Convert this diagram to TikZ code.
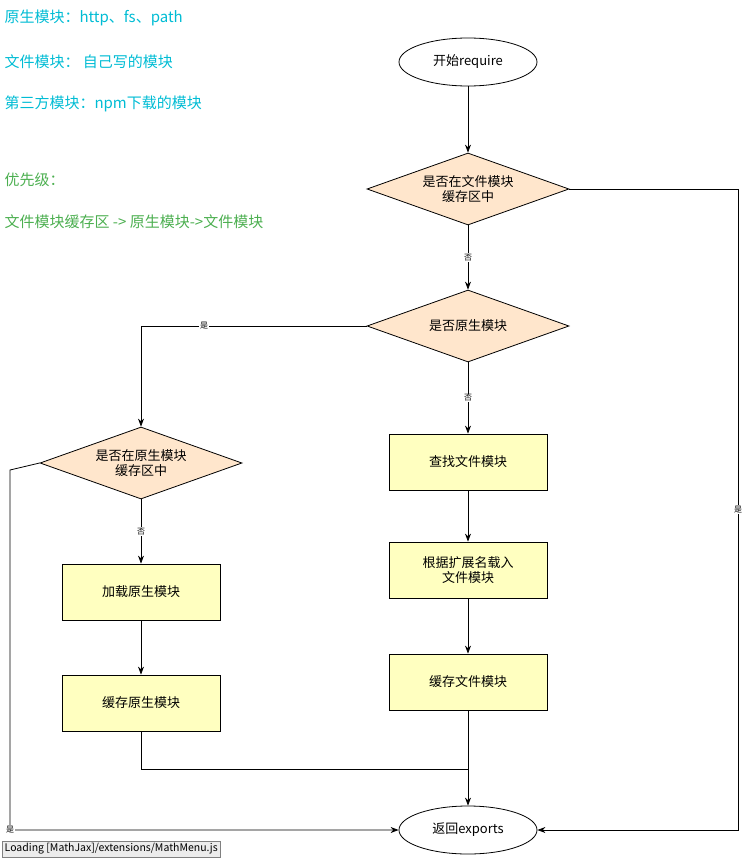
\documentclass[tikz,border=0pt]{standalone}
\usepackage{fontspec}
\setmainfont{Noto Sans CJK SC}
\usetikzlibrary{shapes.geometric,arrows.meta}
\definecolor{cyanT}{HTML}{00BCD4}
\definecolor{greenT}{HTML}{4CAF50}
\definecolor{dfill}{HTML}{FFE6CC}
\definecolor{bfill}{HTML}{FFFFC0}
\begin{document}
\begin{tikzpicture}[x=1pt,y=-1pt,
 every node/.style={font=\fontsize{13}{15}\selectfont},
 term/.style={ellipse,draw,thick,fill=white,minimum width=138pt,minimum height=48pt,inner sep=0pt},
 dec/.style={diamond,draw,thick,fill=dfill,aspect=2.8,minimum width=202pt,minimum height=72pt,inner sep=0pt,align=center},
 proc/.style={rectangle,draw,thick,fill=bfill,minimum width=158pt,minimum height=56pt,align=center},
 conn/.style={thick,-{Stealth[length=8pt]}},
 lbl/.style={fill=white,inner sep=1pt,font=\fontsize{8}{9}\selectfont},
 note/.style={anchor=west,font=\fontsize{15}{17}\selectfont}]
\useasboundingbox (0,0) rectangle (747,859);
\node[note,text=cyanT] (n1) at (1,18) {原生模块：http、fs、path};
\node[note,text=cyanT] (n2) at (1,62) {文件模块：  自己写的模块};
\node[note,text=cyanT] (n3) at (1,104) {第三方模块：npm下载的模块};
\node[note,text=greenT] (n4) at (1,180) {优先级：};
\node[note,text=greenT] (n5) at (1,222) {文件模块缓存区 -> 原生模块->文件模块};

\node[term] (start) at (468,62) {开始require};
\node[dec] (d1) at (468,189) {是否在文件模块\\缓存区中};
\node[dec] (d2) at (468,326) {是否原生模块};
\node[dec] (d3) at (141,463) {是否在原生模块\\缓存区中};
\node[proc] (b1) at (468,462) {查找文件模块};
\node[proc] (b2) at (468,570) {根据扩展名载入\\文件模块};
\node[proc] (b3) at (468,682) {缓存文件模块};
\node[proc] (b4) at (141,592) {加载原生模块};
\node[proc] (b5) at (141,703) {缓存原生模块};
\node[term] (end) at (468,830) {返回exports};
\coordinate (j) at (468,769);

\draw[conn] (start) -- (d1);
\draw[conn] (d1) -- node[lbl]{否} (d2);
\draw[conn] (d1.east) -- (738,189) -- node[lbl,pos=0.5]{是} (738,830) -- (end.east);
\draw[conn] (d2.west) -- node[lbl,pos=0.72]{是} (141,326) -- (d3.north);
\draw[conn] (d2) -- node[lbl]{否} (b1);
\draw[conn] (b1) -- (b2);
\draw[conn] (b2) -- (b3);
\draw[conn] (b3) -- (end);
\draw[conn] (d3) -- node[lbl]{否} (b4);
\draw[conn] (b4) -- (b5);
\draw[thick] (b5.south) -- (141,769) -- (j);
\draw[conn] (d3.west) -- (10,470) -- (10,830) node[lbl]{是} -- (end.west);
\node[draw=gray,fill=gray!15,anchor=south west,inner sep=2.5pt,font=\fontsize{10.5}{12}\selectfont] (load) at (2,857) {Loading [MathJax]/extensions/MathMenu.js};
\end{tikzpicture}
\end{document}
